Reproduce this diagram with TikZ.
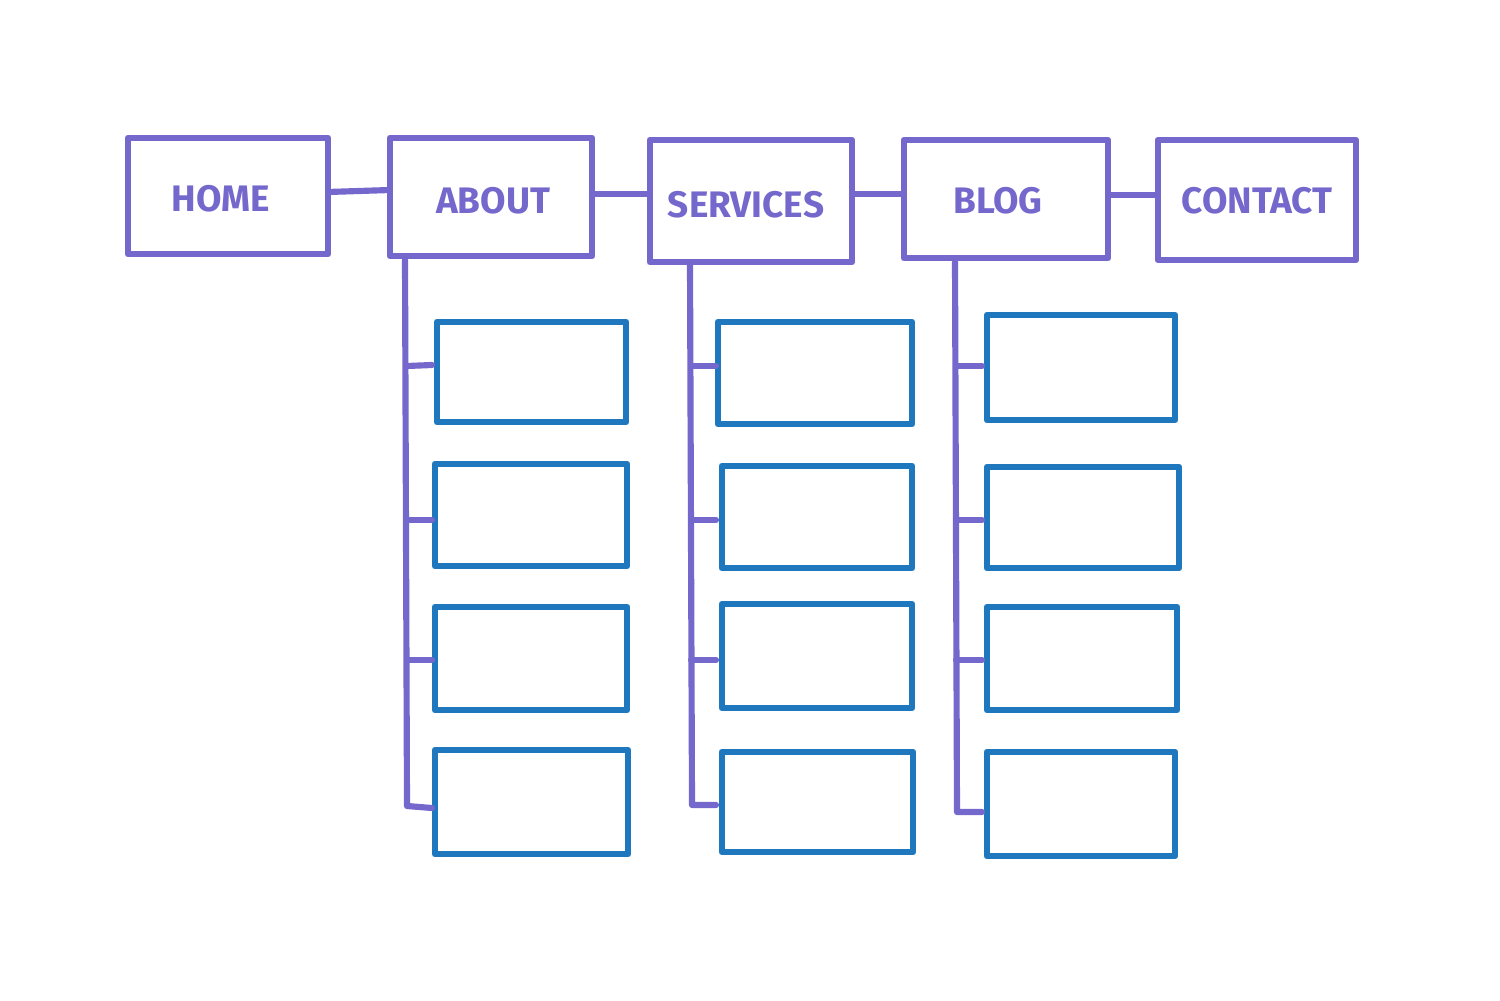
\documentclass[tikz,border=0pt]{standalone}
\usepackage{fontspec}
\setmainfont{Fira Sans}
\definecolor{navc}{HTML}{7468CC}
\definecolor{subc}{HTML}{1F77BD}
\begin{document}
\begin{tikzpicture}[x=0.02cm,y=-0.02cm,
  navbox/.style={draw=navc,line width=3.8pt,line join=round,line cap=round},
  subbox/.style={draw=subc,line width=3.8pt,line join=round,line cap=round},
  link/.style={draw=navc,line width=3.5pt,line cap=round,line join=round},
  lbl/.style={text=navc,font=\fontsize{21}{21}\selectfont\bfseries}]
\useasboundingbox[fill=white] (0,0) rectangle (1500,1000);
% nav boxes
\draw[navbox] (128,138) rectangle (328,254);
\draw[navbox] (390,138) rectangle (592,256);
\draw[navbox] (650,140) rectangle (852,262);
\draw[navbox] (904,140) rectangle (1108,258);
\draw[navbox] (1158,140) rectangle (1356,260);
\coordinate (homeR) at (328,192); \coordinate (aboutL) at (390,190);
\coordinate (aboutR) at (592,194); \coordinate (servL) at (650,194);
\coordinate (servR) at (852,194); \coordinate (blogL) at (904,194);
\coordinate (blogR) at (1108,195); \coordinate (contL) at (1158,195);
\node[lbl] (home) at (221,199) {HOME};
\node[lbl] (about) at (493,201) {ABOUT};
\node[lbl] (services) at (746,205) {SERVICES};
\node[lbl] (blog) at (998,201) {BLOG};
\node[lbl] (contact) at (1257,201) {CONTACT};
\draw[link] (homeR) -- (aboutL);
\draw[link] (aboutR) -- (servL);
\draw[link] (servR) -- (blogL);
\draw[link] (blogR) -- (contL);
% sub boxes column 1
\draw[subbox] (437,322) rectangle (626,422);
\draw[subbox] (435,464) rectangle (627,566);
\draw[subbox] (435,607) rectangle (627,710);
\draw[subbox] (435,750) rectangle (628,854);
% column 2
\draw[subbox] (718,322) rectangle (912,424);
\draw[subbox] (722,466) rectangle (912,568);
\draw[subbox] (722,604) rectangle (912,708);
\draw[subbox] (722,752) rectangle (913,852);
% column 3
\draw[subbox] (987,315) rectangle (1175,420);
\draw[subbox] (987,467) rectangle (1179,568);
\draw[subbox] (987,607) rectangle (1177,710);
\draw[subbox] (987,752) rectangle (1175,856);
% trees
\draw[link] (405,260) -- (407,806) -- (432,808);
\draw[link] (407,366) -- (432,365);
\draw[link] (407,520) -- (432,520);
\draw[link] (407,660) -- (432,660);
\draw[link] (690,264) -- (692,805) -- (716,805);
\draw[link] (691,366) -- (716,366);
\draw[link] (691,520) -- (716,520);
\draw[link] (691,660) -- (716,660);
\draw[link] (955,262) -- (957,812) -- (982,812);
\draw[link] (956,366) -- (982,366);
\draw[link] (956,520) -- (982,520);
\draw[link] (956,660) -- (982,660);
\end{tikzpicture}
\end{document}
